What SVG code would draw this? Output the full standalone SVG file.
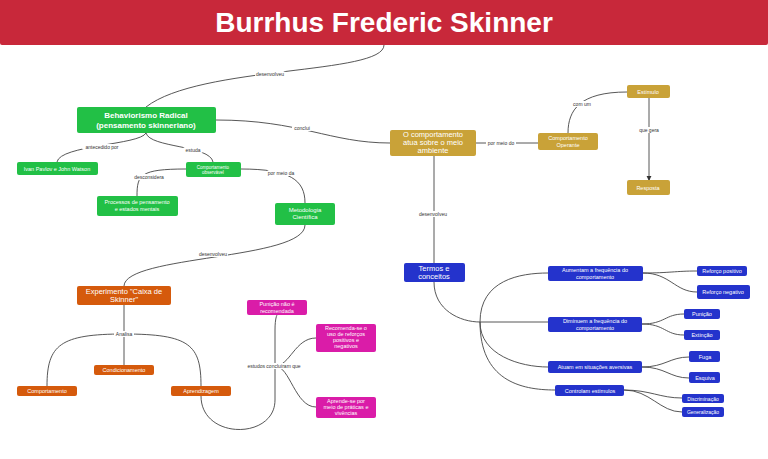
<svg xmlns="http://www.w3.org/2000/svg" width="768" height="459" viewBox="0 0 768 459">
<style>
text{font-family:"Liberation Sans",Arial,sans-serif;fill:#fff;text-anchor:middle}
.l{fill:#333;font-size:5px}
.c path{fill:none;stroke:#444;stroke-width:0.9}
.g{fill:#22c046}.o{fill:#c9a238}.r{fill:#d55a0c}.m{fill:#da1ca8}.b{fill:#2433cc}
rect{rx:2}
</style>
<defs><marker id="a" markerWidth="6" markerHeight="6" refX="5" refY="3" orient="auto"><path d="M0,0L6,3L0,6z" fill="#333"/></marker></defs>
<rect x="0" y="-5" width="768" height="50" rx="5" fill="#c8283a"/>
<text x="384" y="32" font-size="28" font-weight="bold">Burrhus Frederic Skinner</text>
<g class="c">
<path d="M384,45 C384,75 200,65 146,107"/>
<path d="M216,120 C300,120 330,143 390,143"/>
<path d="M146,133 C140,145 60,145 57,162"/>
<path d="M146,133 C150,148 210,145 213,162"/>
<path d="M186,169 C140,169 137,175 137,196"/>
<path d="M241,169 C290,169 305,180 305,203"/>
<path d="M305,225 C305,260 125,255 124,286"/>
<path d="M124,305 V365"/>
<path d="M124,334 C60,334 47,345 47,386"/>
<path d="M124,334 C190,334 201,345 201,386"/>
<path d="M201,396 C201,440 275,440 275,400 V330 C275,318 277,315 277,315"/>
<path d="M275,366 C290,366 295,338 316,338"/>
<path d="M275,366 C290,366 295,407 316,407"/>
<path d="M476,143 H538"/>
<path d="M568,133 C568,110 580,92 627,92"/>
<path d="M649,98 V180" marker-end="url(#a)"/>
<path d="M434,156 V263"/>
<path d="M434,282 C434,310 460,322 480,322"/>
<path d="M480,322 C480,280 520,273 548,273"/>
<path d="M480,322 H548"/>
<path d="M480,322 C480,355 520,367 548,367"/>
<path d="M480,322 C480,380 520,390 555,390"/>
<path d="M643,273 C670,273 675,271 697,271"/>
<path d="M643,273 C670,273 675,292 697,292"/>
<path d="M642,324 C665,324 665,314 684,314"/>
<path d="M642,324 C665,324 665,335 684,335"/>
<path d="M642,367 C665,367 670,357 689,357"/>
<path d="M642,367 C665,367 670,378 689,378"/>
<path d="M624,390 C650,390 660,398 682,398"/>
<path d="M624,390 C650,390 660,412 682,412"/>
</g>
<g fill="#fff">
<rect x="255" y="71" width="30" height="6"/><rect x="292" y="125" width="20" height="6"/>
<rect x="82" y="144" width="40" height="6"/><rect x="183" y="147" width="20" height="6"/>
<rect x="132" y="174" width="34" height="6"/><rect x="267" y="170" width="28" height="6"/>
<rect x="198" y="251" width="30" height="6"/><rect x="114" y="331" width="20" height="6"/>
<rect x="246" y="363" width="56" height="6"/><rect x="486" y="140" width="30" height="6"/>
<rect x="572" y="101" width="20" height="6"/><rect x="638" y="127" width="22" height="6"/>
<rect x="418" y="211" width="30" height="6"/>
</g>
<g>
<text class="l" x="270" y="76">desenvolveu</text>
<text class="l" x="302" y="130">conclui</text>
<text class="l" x="102" y="149">antecedido por</text>
<text class="l" x="193" y="152">estuda</text>
<text class="l" x="149" y="179">desconsidera</text>
<text class="l" x="281" y="175">por meio da</text>
<text class="l" x="213" y="256">desenvolveu</text>
<text class="l" x="124" y="336">Analisa</text>
<text class="l" x="274" y="368">estudos concluíram que</text>
<text class="l" x="501" y="145">por meio do</text>
<text class="l" x="582" y="106">com um</text>
<text class="l" x="649" y="132">que gera</text>
<text class="l" x="433" y="216">desenvolveu</text>
</g>
<g id="n1"><rect class="g" x="77" y="107" width="139" height="26"/><text x="146" y="118" font-size="8" font-weight="bold">Behaviorismo Radical</text><text x="146" y="128" font-size="8" font-weight="bold">(pensamento skinneriano)</text></g>
<g id="n2"><rect class="g" x="17" y="162" width="81" height="13"/><text x="57" y="171" font-size="5.5">Ivan Pavlov e John Watson</text></g>
<g id="n3"><rect class="g" x="186" y="162" width="55" height="15"/><text x="213" y="168.5" font-size="4.5">Comportamento</text><text x="213" y="174" font-size="4.5">observável</text></g>
<g id="n4"><rect class="g" x="97" y="196" width="81" height="20"/><text x="137" y="204" font-size="5.5">Processos de pensamento</text><text x="137" y="211" font-size="5.5">e estados mentais</text></g>
<g id="n5"><rect class="g" x="275" y="203" width="60" height="22"/><text x="305" y="212" font-size="6">Metodologia</text><text x="305" y="219" font-size="6">Científica</text></g>
<g id="n6"><rect class="r" x="77" y="286" width="94" height="19"/><text x="124" y="294" font-size="7.5">Experimento "Caixa de</text><text x="124" y="302" font-size="7.5">Skinner"</text></g>
<g id="n7"><rect class="r" x="94" y="365" width="60" height="10"/><text x="124" y="372" font-size="5.5">Condicionamento</text></g>
<g id="n8"><rect class="r" x="17" y="386" width="60" height="10"/><text x="47" y="393" font-size="5.5">Comportamento</text></g>
<g id="n9"><rect class="r" x="171" y="386" width="60" height="10"/><text x="201" y="393" font-size="5.5">Aprendizagem</text></g>
<g id="n10"><rect class="m" x="247" y="300" width="60" height="15"/><text x="277" y="306" font-size="5.5">Punição não é</text><text x="277" y="312.5" font-size="5.5">recomendada</text></g>
<g id="n11"><rect class="m" x="316" y="324" width="60" height="28"/><text x="346" y="330" font-size="5.5">Recomenda-se  o</text><text x="346" y="336" font-size="5.5">uso de reforços</text><text x="346" y="342" font-size="5.5">positivos e</text><text x="346" y="348" font-size="5.5">negativos</text></g>
<g id="n12"><rect class="m" x="316" y="397" width="60" height="21"/><text x="346" y="403" font-size="5.5">Aprende-se por</text><text x="346" y="409" font-size="5.5">meio de práticas e</text><text x="346" y="415" font-size="5.5">vivências</text></g>
<g id="n13"><rect class="o" x="390" y="130" width="86" height="26"/><text x="433" y="137" font-size="7.5">O comportamento</text><text x="433" y="145" font-size="7.5">atua sobre o meio</text><text x="433" y="153" font-size="7.5">ambiente</text></g>
<g id="n14"><rect class="o" x="538" y="133" width="60" height="17"/><text x="568" y="140" font-size="5.5">Comportamento</text><text x="568" y="146.5" font-size="5.5">Operante</text></g>
<g id="n15"><rect class="o" x="627" y="85" width="43" height="13"/><text x="648" y="93.5" font-size="5.5">Estímulo</text></g>
<g id="n16"><rect class="o" x="627" y="180" width="43" height="15"/><text x="648" y="190" font-size="5.5">Resposta</text></g>
<g id="n17"><rect class="b" x="404" y="263" width="61" height="19"/><text x="434" y="271" font-size="7.5">Termos e</text><text x="434" y="279" font-size="7.5">conceitos</text></g>
<g id="n18"><rect class="b" x="548" y="266" width="95" height="15"/><text x="595" y="272" font-size="5.5">Aumentam a frequência do</text><text x="595" y="278.5" font-size="5.5">comportamento</text></g>
<g id="n19"><rect class="b" x="697" y="266" width="50" height="10"/><text x="722" y="273" font-size="5.5">Reforço positivo</text></g>
<g id="n20"><rect class="b" x="697" y="285" width="53" height="14"/><text x="723" y="294" font-size="5.5">Reforço negativo</text></g>
<g id="n21"><rect class="b" x="548" y="317" width="94" height="15"/><text x="595" y="323" font-size="5.5">Diminuem a frequência do</text><text x="595" y="329.5" font-size="5.5">comportamento</text></g>
<g id="n22"><rect class="b" x="684" y="309" width="36" height="10"/><text x="702" y="316" font-size="5.5">Punição</text></g>
<g id="n23"><rect class="b" x="684" y="330" width="36" height="10"/><text x="702" y="337" font-size="5.5">Extinção</text></g>
<g id="n24"><rect class="b" x="548" y="361" width="94" height="12"/><text x="595" y="369" font-size="5.5">Atuam em situações aversivas</text></g>
<g id="n25"><rect class="b" x="689" y="351" width="31" height="11"/><text x="705" y="358.5" font-size="5.5">Fuga</text></g>
<g id="n26"><rect class="b" x="689" y="372" width="31" height="11"/><text x="705" y="379.5" font-size="5.5">Esquiva</text></g>
<g id="n27"><rect class="b" x="555" y="385" width="69" height="11"/><text x="590" y="392.5" font-size="5.5">Controlam estímulos</text></g>
<g id="n28"><rect class="b" x="682" y="394" width="42" height="9"/><text x="703" y="400.5" font-size="5">Discriminação</text></g>
<g id="n29"><rect class="b" x="682" y="407" width="42" height="10"/><text x="703" y="414" font-size="5">Generalização</text></g>
</svg>
